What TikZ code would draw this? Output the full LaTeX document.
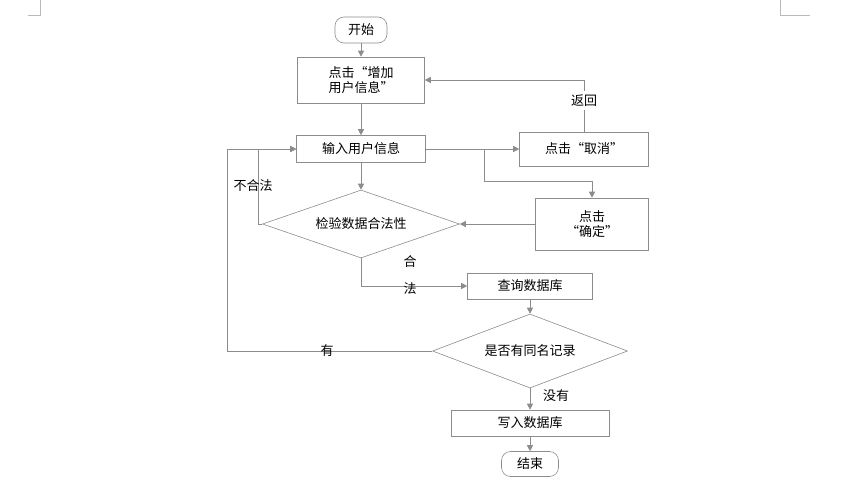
\documentclass[tikz,border=0pt]{standalone}
\usepackage{fontspec}
\setmainfont{Noto Sans CJK SC}
\usetikzlibrary{shapes.geometric,arrows.meta,positioning}
\definecolor{linegray}{RGB}{140,140,140}
\tikzset{
    every node/.style={font=\fontsize{13}{15}\selectfont},
    box/.style={draw=linegray,rectangle,inner sep=2pt,align=center},
    term/.style={draw=linegray,rounded corners=9pt,inner sep=2pt},
    test/.style={draw=linegray,diamond,aspect=2.8,inner sep=1pt}
}
\begin{document}
\begin{tikzpicture}[
            x = 1pt, y = -1pt,
            > = {Triangle[length=6pt,width=6pt]}, % arrow head style
            semithick
        ]
        \useasboundingbox (0,0) rectangle (860,482);
        % page corner marks
        \draw[linegray!60] (28,15) -- (40,15) -- (40,0);
        \draw[linegray!60] (780,0) -- (780,15) -- (810,15);

        \node[term, minimum width=52pt, minimum height=26pt] (start) at (361,30) {开始};
        \node[box, minimum width=127pt, minimum height=46pt] (add) at (361,80) {点击“增加\\用户信息”};
        \node[box, minimum width=129pt, minimum height=27pt] (input) at (361,149) {输入用户信息};
        \node[box, minimum width=129pt, minimum height=34pt] (cancel) at (584,149) {点击“取消”};
        \node[box, minimum width=113pt, minimum height=52pt] (ok) at (592,224) {点击\\“确定”};
        \node[test, minimum width=197pt, minimum height=68pt] (check) at (361,224) {检验数据合法性};
        \node[box, minimum width=125pt, minimum height=26pt] (query) at (530,286) {查询数据库};
        \node[test, minimum width=195pt, minimum height=74pt] (same) at (530,351) {是否有同名记录};
        \node[box, minimum width=158pt, minimum height=26pt] (write) at (530,423) {写入数据库};
        \node[term, minimum width=57pt, minimum height=25pt] (end) at (530,464) {结束};

        \coordinate (split) at (484,149);

        \draw[linegray,->] (start) -- (add);
        \draw[linegray,->] (add) -- (input);
        \draw[linegray,->] (input) -- (cancel);
        \draw[linegray,->] (split) |- (592,181) -- (ok.north);
        \draw[linegray,->] (cancel.north) |- node[pos=0.3,fill=white,text=black] {返回} (add.east);
        \draw[linegray,->] (ok) -- (check.east);
        \draw[linegray,->] (input) -- (check.north);
        \draw[linegray,->] (check.south) |- (query.west);
        \draw[linegray,->] (check.west) -- (258,224) |- (input.west);
        \draw[linegray,->] (same.west) -- (227,351) |- (input.west);
        \draw[linegray,->] (query) -- (same.north);
        \draw[linegray,->] (same) -- (write);
        \draw[linegray,->] (write) -- (end);

        \node at (410,262) {合};
        \node at (410,289) {法};
        \node at (253,186) {不合法};
        \node at (327,351) {有};
        \node at (556,396) {没有};
  \end{tikzpicture}
\end{document}
